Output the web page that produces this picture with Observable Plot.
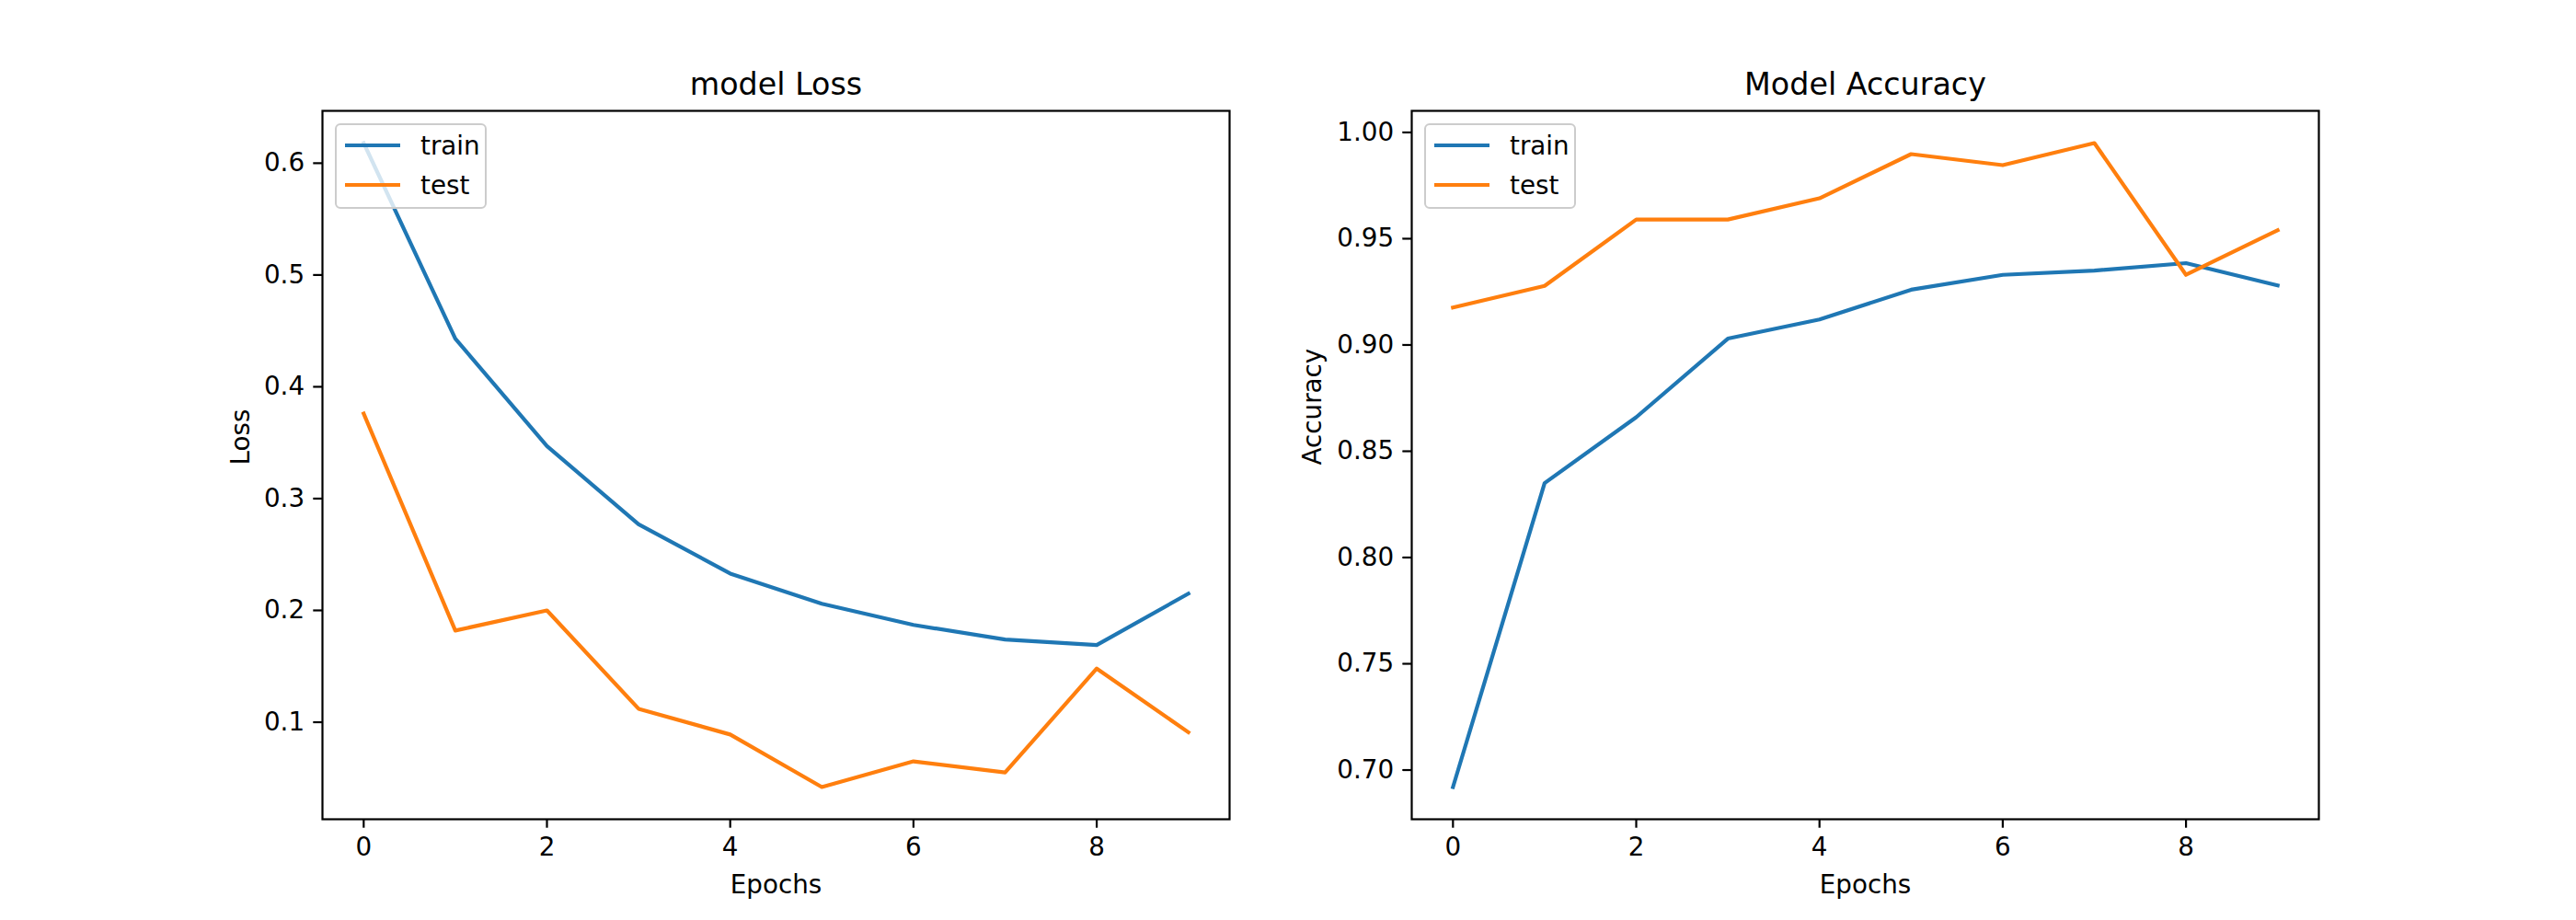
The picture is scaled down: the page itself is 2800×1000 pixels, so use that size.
<!DOCTYPE html>
<html>
<head>
<meta charset="utf-8">
<script src="https://cdn.jsdelivr.net/npm/d3@7"></script>
<script src="https://cdn.jsdelivr.net/npm/@observablehq/plot@0.6"></script>
<style>
  body { margin: 0; background: #fff; }
  #fig { position: relative; width: 2800px; height: 1000px; background: #fff; font-family: "DejaVu Sans", sans-serif; }
  .panel { position: absolute; top: 0; }
  .legend { position: absolute; box-sizing: border-box; background: rgba(255,255,255,0.8);
            border: 2.2px solid #cccccc; border-radius: 6px; }
  .legend svg { position: absolute; left: 0; top: 0; overflow: visible; }
</style>
</head>
<body>
<div id="fig"></div>
<script>
// ---- data ----
const epochs = [0, 1, 2, 3, 4, 5, 6, 7, 8, 9];
const seriesNames = ["train", "test"];
const seriesColors = ["#1f77b4", "#ff7f0e"];

const lossTrain = [0.618, 0.443, 0.347, 0.277, 0.233, 0.206, 0.187, 0.174, 0.169, 0.215];
const lossTest  = [0.376, 0.182, 0.200, 0.112, 0.089, 0.042, 0.065, 0.055, 0.148, 0.091];

const accTrain = [0.692, 0.835, 0.866, 0.903, 0.912, 0.926, 0.933, 0.935, 0.9385, 0.928];
const accTest  = [0.9176, 0.9278, 0.959, 0.959, 0.969, 0.9898, 0.9846, 0.995, 0.933, 0.954];

const xTicks = [0, 2, 4, 6, 8];
const lossTicks = [0.1, 0.2, 0.3, 0.4, 0.5, 0.6];
const accTicks = [0.70, 0.75, 0.80, 0.85, 0.90, 0.95, 1.00];

const titles = ["model Loss", "Model Accuracy"];
const xLabel = "Epochs";
const yLabels = ["Loss", "Accuracy"];

// ---- layout ----
const W = 1400, H = 1000;
const FS = 27.78, TFS = 33.33;
const fig = document.getElementById("fig");

function panel({ left, mL, mR, title, ylabel, train, test, yTicks, yFmt, ylabelDx }) {
  const rows = [];
  epochs.forEach((e, i) => rows.push({ epoch: e, value: train[i], series: seriesNames[0] }));
  epochs.forEach((e, i) => rows.push({ epoch: e, value: test[i], series: seriesNames[1] }));
  const vals = train.concat(test);
  const lo = d3.min(vals), hi = d3.max(vals), pad = (hi - lo) * 0.05;
  const xlo = d3.min(epochs), xhi = d3.max(epochs), xpad = (xhi - xlo) * 0.05;

  const chart = Plot.plot({
    width: W, height: H,
    marginLeft: mL, marginRight: mR, marginTop: 120, marginBottom: 110,
    style: { fontFamily: "DejaVu Sans", background: "white", color: "black", overflow: "visible" },
    x: { domain: [xlo - xpad, xhi + xpad] },
    y: { domain: [lo - pad, hi + pad] },
    color: { domain: seriesNames, range: seriesColors },
    marks: [
      Plot.axisX({ ticks: xTicks, tickSize: 9.7, tickPadding: 9.7, fontSize: FS, label: null,
                   strokeWidth: 2.2, tickFormat: d => String(d) }),
      Plot.axisY({ ticks: yTicks, tickSize: 9.7, tickPadding: 9.7, fontSize: FS, label: null,
                   strokeWidth: 2.2, tickFormat: yFmt }),
      Plot.line(rows, { x: "epoch", y: "value", stroke: "series", z: "series", strokeWidth: 4.2,
                        strokeLinejoin: "round", strokeLinecap: "square" }),
      Plot.frame({ stroke: "black", strokeWidth: 2.2 }),
      Plot.text([title], { text: d => d, frameAnchor: "top", lineAnchor: "bottom", dy: -18, fontSize: TFS, fill: "black" }),
      Plot.text([xLabel], { text: d => d, frameAnchor: "bottom", lineAnchor: "bottom", dy: 80.7, fontSize: FS, fill: "black" }),
      Plot.text([ylabel], { text: d => d, frameAnchor: "left", lineAnchor: "bottom", rotate: -90, dx: ylabelDx, fontSize: FS, fill: "black" })
    ]
  });
  chart.classList.add("panel");
  chart.style.left = left + "px";
  fig.appendChild(chart);

  // legend (upper left)
  const axLeft = left + mL;
  const lg = document.createElement("div");
  lg.className = "legend";
  lg.style.left = (axLeft + 14) + "px";
  lg.style.top = "134px";
  lg.style.width = "165px";
  lg.style.height = "93px";
  const svg = d3.create("svg").attr("width", 165).attr("height", 93);
  seriesNames.forEach((name, i) => {
    const cy = 22 + i * 43;
    svg.append("line").attr("x1", 9).attr("x2", 69).attr("y1", cy).attr("y2", cy)
      .attr("stroke", seriesColors[i]).attr("stroke-width", 4.2);
    svg.append("text").attr("x", 91).attr("y", cy + 10).attr("font-size", FS)
      .attr("font-family", "DejaVu Sans").attr("fill", "black").text(name);
  });
  lg.appendChild(svg.node());
  fig.appendChild(lg);
}

panel({ left: 0, mL: 350, mR: 64, title: titles[0], ylabel: yLabels[0], train: lossTrain, test: lossTest,
        yTicks: lossTicks, yFmt: d3.format(".1f"), ylabelDx: -79.3 });
panel({ left: 1400, mL: 134, mR: 280, title: titles[1], ylabel: yLabels[1], train: accTrain, test: accTest,
        yTicks: accTicks, yFmt: d3.format(".2f"), ylabelDx: -99 });
</script>
</body>
</html>
